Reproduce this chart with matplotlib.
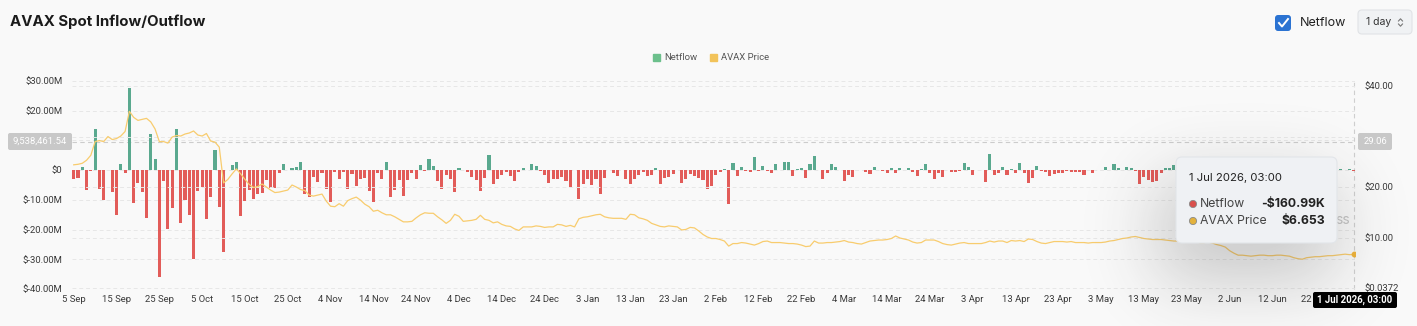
import math
import numpy as np
import pandas as pd
import matplotlib
matplotlib.use("Agg")
import matplotlib.pyplot as plt
import matplotlib.dates as mdates
from matplotlib.patches import FancyBboxPatch, Patch, Circle
from matplotlib.lines import Line2D
from matplotlib.transforms import IdentityTransform

W, H, DPI = 1417, 326, 100

# ---------------- data ----------------
dates = pd.date_range("2025-09-05", "2026-07-01", freq="D")  # 300 days

netflow_m = [
    -3.0, -2.6, 0.9, -6.6, -0.2, 14.0, -6.2, -9.9, 0.2, -7.5,
    -15.2, 2.2, -0.8, 27.5, -11.2, -4.2, -7.5, -16.1, 12.0, 3.6,
    -36.0, -3.6, -19.8, -12.7, 13.9, -17.8, -9.9, -15.0, -30.0, -7.1,
    -5.6, -16.3, -9.0, 6.7, -12.4, -27.5, 0.2, 1.7, 2.8, -15.4,
    -10.3, -6.7, -9.8, -8.1, -7.6, -3.4, -6.0, -6.0, -0.8, 2.1,
    0.2, 0.8, 1.0, 2.7, -8.1, -9.2, -2.2, -4.0, -1.1, -6.5,
    -10.8, -0.7, -3.0, -0.6, -6.2, -1.3, -5.2, -3.0, -2.6, -7.1,
    -10.7, -0.9, -2.9, 2.6, -8.9, -6.7, -3.4, -8.7, -3.4, -1.1,
    -3.0, 1.7, -0.2, 3.9, 1.3, -3.6, -6.4, -1.5, -2.9, -7.5,
    0.8, 0.2, -0.6, -2.2, -3.4, -7.0, -2.8, 5.1, -4.5, -3.1,
    -1.5, -0.5, -2.0, -3.7, -0.6, 0.7, 0.1, 2.2, 1.3, -0.3,
    -1.7, -4.2, -3.1, -3.0, -2.2, -3.6, -5.7, -0.1, -9.6, -4.8,
    -3.0, -4.9, -3.0, -8.1, -2.6, -0.1, -1.1, -1.9, -0.1, -3.1,
    -4.7, -3.1, -1.7, -0.7, -2.0, -1.7, 0.7, -4.5, -2.5, -2.2,
    -1.3, -0.1, -4.3, -3.0, -1.3, -2.0, -2.5, -3.4, -6.2, -5.2,
    -1.5, -0.6, 0.3, -11.5, 2.5, -2.0, 0.9, -0.4, -0.6, 4.4,
    -0.2, 1.5, -0.4, -1.0, 2.0, 0.1, 2.6, 2.7, -1.9, 0.4,
    0.7, -2.6, 2.0, 4.9, 0.1, -3.0, -0.9, 2.0, 1.1, 0.1,
    -3.7, -1.5, -2.2, 0.1, -0.1, -0.6, -1.3, 1.1, 0.1, -0.3,
    -0.9, 0.6, -0.8, 0.6, 0.1, 0.6, -0.6, -2.0, 0.3, 1.9,
    -0.8, -3.0, -1.1, -2.2, 0.1, -0.6, -0.7, -0.3, 2.5, 0.9,
    -1.6, 0.1, 0.1, -3.9, 5.4, -1.5, -1.1, 1.0, -1.5, 0.3,
    -1.1, 2.4, -0.9, -4.2, -2.8, 1.3, -0.3, -0.6, -1.9, -1.3,
    -1.1, -1.1, -0.3, -0.6, -0.6, -0.6, -1.7, 0.2, -0.8, 0.1,
    0.1, 1.1, 0.1, 2.2, 0.6, 0.1, 1.0, 0.6, -0.3, -4.7,
    -2.2, -3.4, -3.9, -3.6, -0.8, 0.6, 0.6, 1.7, 0.3, -0.2,
    0.5, -0.4, 0.2, -0.3, 0.6, -0.5, 0.1, -0.2, 0.4, -0.6,
    -0.3, 0.2, -0.4, 0.3, -0.1, 0.5, -0.3, 0.2, -0.2, 0.4,
    -0.5, 0.1, 0.3, -0.2, 0.2, -0.4, 0.6, -0.1, 0.3, -0.3,
    0.2, 0.4, -0.2, 0.1, 0.3, 0.2, 0.3, 0.2, 0.4, -0.16,
]

avax_price = [
    24.4, 24.5, 24.7, 25.3, 26.3, 29.0, 29.2, 29.0, 30.0, 29.4,
    29.6, 30.1, 31.0, 35.0, 33.8, 33.2, 33.4, 33.6, 32.9, 31.5,
    29.0, 29.0, 28.7, 29.9, 30.2, 30.1, 30.5, 30.7, 31.1, 30.3,
    30.1, 30.6, 29.1, 28.9, 27.9, 20.8, 21.5, 22.6, 23.6, 22.6,
    21.5, 20.5, 19.9, 20.1, 20.6, 20.0, 19.4, 18.9, 19.0, 19.2,
    19.4, 20.4, 20.0, 19.5, 19.3, 18.4, 18.2, 18.4, 18.6, 17.2,
    16.2, 16.1, 16.7, 16.2, 17.3, 17.7, 18.0, 17.4, 16.6, 16.1,
    15.2, 15.4, 14.9, 14.5, 14.5, 14.1, 13.6, 13.1, 13.1, 13.2,
    13.9, 14.5, 14.9, 14.8, 14.8, 14.1, 13.5, 12.8, 13.4, 14.6,
    14.2, 13.2, 13.3, 13.4, 13.6, 14.4, 13.6, 13.4, 12.9, 13.1,
    12.6, 12.3, 12.2, 11.7, 11.4, 12.1, 12.1, 12.1, 12.3, 12.2,
    12.0, 12.1, 12.1, 12.6, 12.5, 12.2, 12.4, 12.1, 13.7, 14.0,
    14.1, 14.3, 14.5, 14.6, 14.1, 13.9, 13.8, 13.8, 13.8, 13.6,
    14.6, 14.5, 13.9, 13.7, 13.4, 12.8, 12.5, 12.2, 12.1, 12.3,
    12.2, 12.1, 11.5, 11.6, 12.0, 11.9, 11.3, 10.6, 10.1, 9.8,
    9.8, 9.6, 9.3, 8.3, 8.8, 8.8, 9.0, 8.9, 8.7, 8.5,
    8.8, 9.2, 9.3, 9.0, 9.0, 9.0, 8.9, 8.8, 8.8, 8.7,
    8.5, 8.2, 8.3, 9.3, 8.9, 8.9, 9.0, 9.0, 9.1, 9.2,
    9.4, 9.1, 9.0, 8.8, 8.7, 9.0, 9.3, 9.4, 9.5, 9.5,
    9.6, 9.8, 10.3, 9.9, 9.7, 9.5, 9.1, 8.9, 9.0, 9.5,
    9.5, 9.5, 9.2, 8.8, 8.6, 8.5, 8.7, 8.9, 9.0, 8.8,
    8.8, 8.8, 8.8, 9.0, 9.3, 9.1, 9.3, 9.3, 9.0, 9.4,
    9.3, 9.4, 9.2, 9.7, 9.6, 9.2, 8.9, 8.8, 9.0, 9.2,
    9.2, 9.2, 9.1, 9.2, 9.0, 9.0, 9.0, 8.9, 9.0, 9.0,
    9.0, 9.1, 9.3, 9.4, 9.6, 9.8, 9.9, 10.1, 10.2, 10.0,
    9.8, 9.7, 9.6, 9.6, 9.6, 9.5, 9.4, 9.3, 9.3, 9.3,
    9.2, 9.3, 9.2, 9.0, 9.0, 9.1, 8.9, 8.6, 8.4, 8.1,
    7.4, 6.9, 6.5, 6.5, 6.4, 6.3, 6.4, 6.5, 6.5, 6.4,
    6.4, 6.5, 6.5, 6.4, 6.3, 6.0, 5.8, 5.7, 6.0, 6.1,
    6.2, 6.2, 6.3, 6.4, 6.4, 6.5, 6.6, 6.7, 6.6, 6.653,
]

xtick_labels = ["5 Sep", "15 Sep", "25 Sep", "5 Oct", "15 Oct", "25 Oct", "4 Nov",
                "14 Nov", "24 Nov", "4 Dec", "14 Dec", "24 Dec", "3 Jan", "13 Jan",
                "23 Jan", "2 Feb", "12 Feb", "22 Feb", "4 Mar", "14 Mar", "24 Mar",
                "3 Apr", "13 Apr", "23 Apr", "3 May", "13 May", "23 May", "2 Jun",
                "12 Jun", "22 Jun"]
left_ticks = [30, 20, 10, 0, -10, -20, -30, -40]
# "$10.00M" is hidden under the crosshair label in the reference
left_labels = ["$30.00M", "$20.00M", "", "$0", "$-10.00M", "$-20.00M",
               "$-30.00M", "$-40.00M"]
right_ticks = [0.0372, 10, 20, 30, 40]
# "$30.00" is hidden under the crosshair label in the reference
right_labels = ["$0.0372", "$10.00", "$20.00", "", "$40.00"]

cross_left_value = 9.53846154   # $M
cross_left_label = "9,538,461.54"
cross_right_value = 29.06
cross_right_label = "29.06"
hover_date_label = "1 Jul 2026, 03:00"
hover_netflow = "-$160.99K"
hover_price = "$6.653"

# ---------------- style ----------------
BG = "#f9f9f9"
GREEN = "#5aa98f"
RED = "#e25c59"
YEL = "#f8cc6e"
GRID = "#e7e7e7"
TICKC = "#3a3a3a"
TFONT = ["Roboto", "DejaVu Sans"]
UFONT = ["Inter", "DejaVu Sans"]

fig = plt.figure(figsize=(W / DPI, H / DPI), dpi=DPI, facecolor=BG)
ID = IdentityTransform()


def P(x, y):
    """top-left pixel coords -> display coords"""
    return x, H - y


ax = fig.add_axes([72 / W, 1 - 289 / H, (1355 - 72) / W, (289 - 81) / H])
ax.set_facecolor("none")
xs = mdates.date2num(dates)
vals = np.array(netflow_m)
cols = [GREEN if v >= 0 else RED for v in vals]
ax.bar(xs, vals, width=0.72, color=cols, zorder=3, linewidth=0)
ax.set_ylim(-40, 30)
ax.set_xlim(xs[0] - 0.4, xs[-1] + 0.3)
ax.set_yticks(left_ticks)
ax.set_yticklabels(left_labels)
ax.set_xticks(xs[::10])
ax.set_xticklabels(xtick_labels)
ax.grid(axis="y", color=GRID, lw=0.7, ls=(0, (4, 3)), zorder=0)
ax.tick_params(axis="y", length=0, pad=7, labelsize=6.8, labelcolor=TICKC)
ax.tick_params(axis="x", length=0, pad=4.5, labelsize=6.8, labelcolor=TICKC)
for lab in ax.get_xticklabels() + ax.get_yticklabels():
    lab.set_family(TFONT)
for s in ax.spines.values():
    s.set_visible(False)

ax2 = ax.twinx()
ax2.plot(xs, avax_price, color=YEL, lw=0.9, zorder=4)
ax2.plot([xs[-1]], [avax_price[-1]], "o", ms=3.2, color="#f0b43c", zorder=5)
ax2.set_ylim(-0.2, 41.0)
ax2.set_yticks(right_ticks)
ax2.set_yticklabels(right_labels)
ax2.grid(axis="y", color=GRID, lw=0.7, ls=(0, (4, 3)), zorder=0)
ax2.tick_params(axis="y", length=0, pad=7, labelsize=6.8, labelcolor=TICKC)
for lab in ax2.get_yticklabels():
    lab.set_family(TFONT)
for s in ax2.spines.values():
    s.set_visible(False)
ax2.set_xlim(ax.get_xlim())

# crosshair
ax.axhline(cross_left_value, color="#cccccc", lw=0.8, ls=(0, (4, 3)), zorder=2)
ax.axvline(xs[-1], color="#cfcfcf", lw=0.8, ls=(0, (4, 3)), zorder=2, clip_on=False)

# crosshair labels
for (x0, x1, txt) in [(8, 72, cross_left_label), (1358, 1392, cross_right_label)]:
    bx = FancyBboxPatch(P(x0, 150), x1 - x0, 17, boxstyle="round,pad=0,rounding_size=2",
                        transform=ID, fc="#c8c8c8", ec="none", zorder=8)
    fig.patches.append(bx)
    fig.text(*P((x0 + x1) / 2, 141.5), txt, transform=ID, ha="center", va="center",
             color="white", fontsize=6.8, family=TFONT, zorder=9)

# title
fig.text(*P(10, 22), "AVAX Spot Inflow/Outflow", transform=ID, fontsize=10.8,
         weight="bold", va="center", ha="left", color="#1b1b1b", family=UFONT)

# checkbox + Netflow
cb = FancyBboxPatch(P(1275, 31), 16, 16, boxstyle="round,pad=0,rounding_size=3",
                    transform=ID, fc="#2b73d2", ec="none", zorder=5)
fig.patches.append(cb)
fig.lines.append(Line2D([1279, 1282, 1288], [H - 23, H - 26.5, H - 19], transform=ID,
                        color="white", lw=1.4, zorder=6))
fig.text(*P(1300, 22.5), "Netflow", transform=ID, fontsize=9.0, va="center",
         color="#222222", family=UFONT)

# "1 day" select
sel = FancyBboxPatch(P(1358, 34), 54, 24, boxstyle="round,pad=0,rounding_size=4",
                     transform=ID, fc="#f0f2f4", ec="#e1e3e6", lw=0.8, zorder=5)
fig.patches.append(sel)
fig.text(*P(1366, 22), "1 day", transform=ID, fontsize=7.5, va="center",
         color="#333333", family=UFONT, zorder=6)
fig.lines.append(Line2D([1398.5, 1400.5, 1402.5], [H - 21, H - 18.8, H - 21],
                        transform=ID, color="#777777", lw=0.8, zorder=6))
fig.lines.append(Line2D([1398.5, 1400.5, 1402.5], [H - 24, H - 26.2, H - 24],
                        transform=ID, color="#777777", lw=0.8, zorder=6))

# legend
leg = fig.legend(handles=[Patch(color="#6cc08c"), Patch(color="#f2c35a")],
                 labels=["Netflow", "AVAX Price"], loc="center",
                 bbox_to_anchor=(711 / W, 1 - 58 / H), ncol=2, frameon=False,
                 fontsize=6.8, handlelength=0.75, handleheight=0.75,
                 columnspacing=1.3, handletextpad=0.45)
for t in leg.get_texts():
    t.set_color("#555555")
    t.set_family(TFONT)

# visible fragment of a watermark that sits behind the tooltip
fig.text(*P(1350, 220), "ss", transform=ID, fontsize=10, ha="right",
         va="center", color="#c4c4c4", family=UFONT, zorder=3)

# tooltip shadow
sx0, sx1, sy0, sy1 = 980, W, 90, H
gx = np.arange(sx0, sx1) + 0.5
gy = np.arange(sy0, sy1) + 0.5
erf = np.vectorize(math.erf)
s = 36.0
fxv = 0.5 * (erf((gx - 1158) / (s * 2 ** 0.5)) - erf((gx - 1335) / (s * 2 ** 0.5)))
fyv = 0.5 * (erf((gy - 180) / (s * 2 ** 0.5)) - erf((gy - 280) / (s * 2 ** 0.5)))
alpha = 0.24 * np.outer(fyv, fxv)
img = np.zeros((len(gy), len(gx), 4))
img[..., 0:3] = 0.15
img[..., 3] = alpha
fig.figimage(img, xo=sx0, yo=H - sy1, origin="upper", zorder=6)

# tooltip
tb = FancyBboxPatch(P(1176, 243), 161, 86, boxstyle="round,pad=0,rounding_size=6",
                    transform=ID, fc="#eff1f4", ec="#e2e5e9", lw=0.8, zorder=10)
fig.patches.append(tb)
fig.text(*P(1189, 178), hover_date_label, transform=ID, fontsize=8.2, va="center",
         color="#222222", family=UFONT, zorder=11)
for yy, c, name, val in [(204, "#d9504c", "Netflow", hover_netflow),
                         (221, "#e3b23c", "AVAX Price", hover_price)]:
    fig.patches.append(Circle(P(1193, yy), 3.6, transform=ID, fc=c, ec="#8a8a8a",
                              lw=0.6, zorder=11))
    fig.text(*P(1200, yy), name, transform=ID, fontsize=8.8, va="center",
             color="#444444", family=UFONT, zorder=11)
    fig.text(*P(1325, yy), val, transform=ID, fontsize=8.8, va="center", ha="right",
             color="#222222", weight="bold", family=UFONT, zorder=11)

# hovered date label at x axis
db = FancyBboxPatch(P(1313, 308), 84, 16, boxstyle="round,pad=0,rounding_size=2",
                    transform=ID, fc="#000000", ec="none", zorder=12)
fig.patches.append(db)
fig.text(*P(1355, 300), hover_date_label, transform=ID, fontsize=6.9, va="center",
         ha="center", color="white", weight="bold", family=TFONT, zorder=13)

fig.savefig("out.png", dpi=DPI, facecolor=BG)
